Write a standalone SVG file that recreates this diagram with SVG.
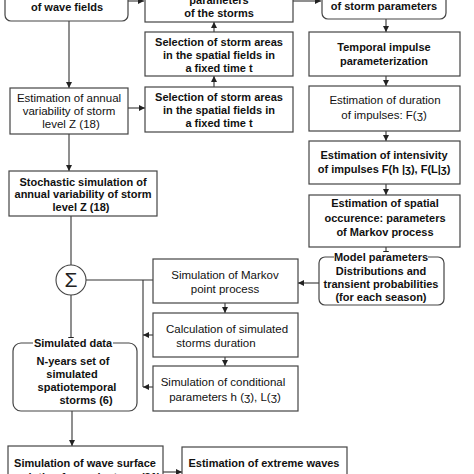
<svg xmlns="http://www.w3.org/2000/svg" width="474" height="474" viewBox="0 0 474 474">
<style>
.b{fill:#fff;stroke:#444;stroke-width:1.2}
.t{font-family:"Liberation Sans",Arial,sans-serif;font-size:11px;font-weight:bold;fill:#111;text-anchor:middle}
.r{font-family:"Liberation Sans",Arial,sans-serif;font-size:11.5px;fill:#111;text-anchor:middle}
.c{fill:none;stroke:#333;stroke-width:1.1}
</style>
<defs>
<marker id="a" markerUnits="userSpaceOnUse" markerWidth="6" markerHeight="6" refX="6" refY="3" orient="auto">
<path d="M0,0 L6,3 L0,6 z" fill="#222"/>
</marker>
</defs>
<rect width="474" height="474" fill="#fff"/>
<g id="connectors">
<line class="c" x1="128" y1="1" x2="144" y2="1" marker-end="url(#a)"/>
<line class="c" x1="293" y1="1" x2="321" y2="1" marker-end="url(#a)"/>
<line class="c" x1="69" y1="21" x2="69" y2="88" marker-end="url(#a)"/>
<line class="c" x1="128" y1="108" x2="145" y2="108" marker-end="url(#a)"/>
<line class="c" x1="214" y1="87" x2="214" y2="76" marker-end="url(#a)"/>
<line class="c" x1="214" y1="32" x2="214" y2="22" marker-end="url(#a)"/>
<line class="c" x1="69" y1="134" x2="69" y2="171" marker-end="url(#a)"/>
<line class="c" x1="71" y1="216" x2="71" y2="265"/>
<line class="c" x1="86" y1="280" x2="153" y2="280"/>
<line class="c" x1="143" y1="280" x2="143" y2="387"/>
<line class="c" x1="153" y1="335" x2="143" y2="335" marker-end="url(#a)"/>
<line class="c" x1="153" y1="387" x2="143" y2="387" marker-end="url(#a)"/>
<line class="c" x1="71" y1="295" x2="71" y2="343" marker-end="url(#a)"/>
<line class="c" x1="72" y1="411" x2="72" y2="446" marker-end="url(#a)"/>
<line class="c" x1="163" y1="472" x2="182" y2="472" marker-end="url(#a)"/>
<line class="c" x1="386" y1="19" x2="386" y2="32" marker-end="url(#a)"/>
<line class="c" x1="386" y1="76" x2="386" y2="86" marker-end="url(#a)"/>
<line class="c" x1="386" y1="131" x2="386" y2="141" marker-end="url(#a)"/>
<line class="c" x1="386" y1="184" x2="386" y2="195" marker-end="url(#a)"/>
<line class="c" x1="386" y1="247" x2="386" y2="257" marker-end="url(#a)"/>
<line class="c" x1="319" y1="283" x2="298" y2="283" marker-end="url(#a)"/>
<line class="c" x1="225" y1="303" x2="225" y2="313" marker-end="url(#a)"/>
<line class="c" x1="225" y1="357" x2="225" y2="366" marker-end="url(#a)"/>
</g>
<g id="wave-fields">
<rect class="b" x="5" y="-20" width="123" height="41" rx="6"/>
<text class="t" x="67" y="11">of wave fields</text>
</g>
<g id="storm-params-top">
<rect class="b" x="145" y="-20" width="148" height="42"/>
<text class="t" x="219" y="4">parameters</text>
<text class="t" x="219" y="17">of the storms</text>
</g>
<g id="storm-params-right">
<rect class="b" x="322" y="-20" width="124" height="39" rx="6"/>
<text class="t" x="384" y="10">of storm parameters</text>
</g>
<g id="selection-upper">
<rect class="b" x="145" y="32" width="148" height="44"/>
<text class="t" x="219" y="46">Selection of storm areas</text>
<text class="t" x="219" y="59">in the spatial fields in</text>
<text class="t" x="219" y="72">a fixed time t</text>
</g>
<g id="selection-lower">
<rect class="b" x="145" y="87" width="148" height="45"/>
<text class="t" x="219" y="101">Selection of storm areas</text>
<text class="t" x="219" y="114">in the spatial fields in</text>
<text class="t" x="219" y="127">a fixed time t</text>
</g>
<g id="estimation-annual">
<rect class="b" x="10" y="88" width="118" height="46"/>
<text class="r" x="69" y="102">Estimation of annual</text>
<text class="r" x="69" y="115">variability of storm</text>
<text class="r" x="71" y="128">level Z  (18)</text>
</g>
<g id="stochastic">
<rect class="b" x="9" y="171" width="148" height="45"/>
<text class="t" x="83" y="186">Stochastic simulation of</text>
<text class="t" x="83" y="198">annual variability of storm</text>
<text class="t" x="81" y="211">level Z  (18)</text>
</g>
<g id="temporal">
<rect class="b" x="309" y="32" width="151" height="44"/>
<text class="t" x="384" y="51">Temporal impulse</text>
<text class="t" x="384" y="65">parameterization</text>
</g>
<g id="duration">
<rect class="b" x="309" y="86" width="151" height="45"/>
<text class="r" x="385" y="104">Estimation of duration</text>
<text class="r" x="384" y="119">of impulses:  F(ʒ)</text>
</g>
<g id="intensivity">
<rect class="b" x="309" y="141" width="151" height="43"/>
<text class="t" x="384" y="159">Estimation of intensivity</text>
<text class="t" x="384" y="173">of impulses   F(h |ʒ), F(L|ʒ)</text>
</g>
<g id="spatial">
<rect class="b" x="309" y="195" width="151" height="52"/>
<text class="t" x="385" y="207">Estimation of spatial</text>
<text class="t" x="385" y="222">occurence: parameters</text>
<text class="t" x="385" y="236">of Markov process</text>
</g>
<g id="model-params">
<rect class="b" x="319" y="257" width="125" height="48" rx="6"/>
<rect x="334" y="252" width="94" height="10" fill="#fff"/>
<text class="t" x="381" y="261">Model parameters</text>
<text class="t" x="381" y="275">Distributions and</text>
<text class="t" x="381" y="288">transient probabilities</text>
<text class="t" x="381" y="301">(for each season)</text>
</g>
<g id="markov">
<rect class="b" x="153" y="259" width="145" height="44"/>
<text class="r" x="225" y="279">Simulation of Markov</text>
<text class="r" x="225" y="293">point process</text>
</g>
<g id="sum">
<circle cx="71" cy="280" r="15" fill="#fff" stroke="#444" stroke-width="1.1"/>
<text x="71" y="287" font-family="Liberation Sans,Arial,sans-serif" font-size="21" text-anchor="middle" fill="#222">Σ</text>
</g>
<g id="calculation">
<rect class="b" x="153" y="313" width="145" height="44"/>
<text class="r" x="227" y="333">Calculation of simulated</text>
<text class="r" x="216" y="347">storms duration</text>
</g>
<g id="conditional">
<rect class="b" x="153" y="366" width="145" height="45"/>
<text class="r" x="223" y="386">Simulation of conditional</text>
<text class="r" x="225" y="401">parameters h (ʒ),  L(ʒ)</text>
</g>
<g id="simulated-data">
<rect class="b" x="13" y="343" width="124" height="68" rx="8"/>
<rect x="33" y="338" width="80" height="10" fill="#fff"/>
<text class="t" x="73" y="347">Simulated data</text>
<text class="t" x="73" y="365">N-years set of</text>
<text class="t" x="72" y="378">simulated</text>
<text class="t" x="77" y="391">spatiotemporal</text>
<text class="t" x="86" y="404">storms   (6)</text>
</g>
<g id="wave-surface">
<rect class="b" x="8" y="446" width="155" height="40"/>
<text class="t" x="85" y="467">Simulation of wave surface</text>
<text class="t" x="85" y="481">evolution for each storm (21)</text>
</g>
<g id="extreme">
<rect class="b" x="182" y="447" width="165" height="40"/>
<text class="t" x="264" y="467">Estimation of extreme waves</text>
</g>
</svg>
